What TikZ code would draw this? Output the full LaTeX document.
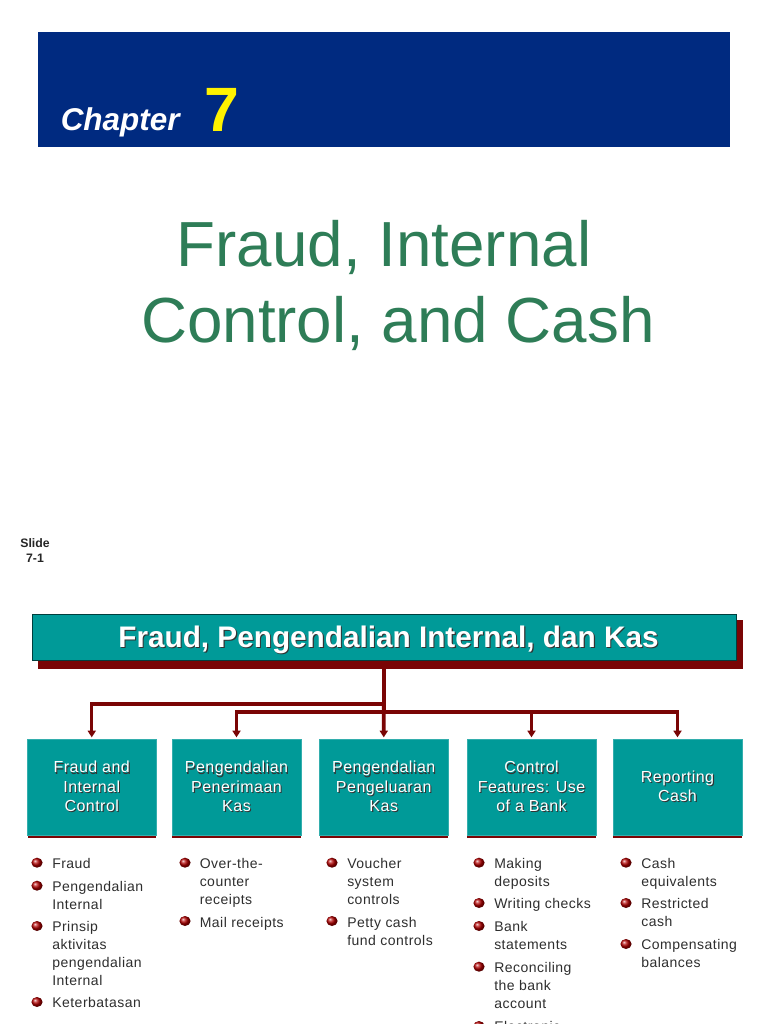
\documentclass[tikz,border=0pt]{standalone}
\usepackage{fontspec}
\setmainfont{Liberation Sans}
\newfontfamily\boxfont[LetterSpace=3]{Liberation Sans}
\newfontfamily\listfont[LetterSpace=3.5]{Liberation Sans}
\usetikzlibrary{arrows.meta}
\definecolor{bandblue}{HTML}{002A80}
\definecolor{titlegreen}{HTML}{2E7D57}
\definecolor{tealbox}{HTML}{009A98}
\definecolor{maroon}{HTML}{7A0505}
\definecolor{listgrey}{HTML}{2E2E2E}
\newcommand{\shadowed}[1]{\leavevmode\rlap{\raisebox{-0.8pt}{\kern0.8pt\textcolor{black!80}{#1}}}#1}
\newcommand{\bulletitem}[6]{%
  \shade[ball color=red!70!black] (#3,#5) ellipse (5.6 and 5);
  \node[listitem] (#1) at (#4,#6) {\parbox[t]{110pt}{\raggedright\fontsize{10.5}{13.5}\selectfont #2}};}
\tikzset{
  x=0.75pt,y=-0.75pt,
  listitem/.style={anchor=base west,inner sep=0pt,text=listgrey,font=\listfont},
  topicbox/.style={fill=tealbox,draw=tealbox!80!white,line width=0.5pt,minimum height=72pt,inner sep=0pt,align=center,text=white,font=\boxfont\fontsize{12}{14.4}\selectfont},
  conn/.style={draw=maroon,line width=2.3pt},
  connarrow/.style={conn,shorten >=1pt,-{Triangle[length=5pt,width=6pt]}},
  titletext/.style={anchor=base,inner sep=0pt,text=titlegreen,font=\fontsize{47.8}{57}\selectfont},
}
\begin{document}
\begin{tikzpicture}
\useasboundingbox (0,0) rectangle (768,1024);
\fill[white] (0,0) rectangle (768,1024);
% chapter band
\fill[bandblue] (38,32) rectangle (729.5,147);
\node[anchor=base west,inner sep=0pt,text=white,font=\fontsize{23.6}{28}\selectfont\bfseries\itshape] (chapter) at (60.5,130) {Chapter};
\node[anchor=base west,inner sep=0pt,text=yellow,font=\fontsize{47}{56}\selectfont\bfseries] (seven) at (204,132) {7};
% title
\node[titletext] (title1) at (384,266) {Fraud, Internal};
\node[titletext] (title2) at (398,342) {Control, and Cash};
% slide label
\node[anchor=center,inner sep=0pt,align=center,text=black!85,font=\fontsize{9.2}{11}\selectfont\bfseries] (slide) at (35,550.5) {Slide\\7-1};
% header
\fill[maroon] (38,620) rectangle (743,669);
\node[fill=tealbox,draw=black!60!tealbox,line width=0.75pt,minimum width=528pt,minimum height=35pt,inner sep=0pt,text=white,font=\fontsize{22.3}{26}\selectfont\bfseries] (head) at (384,637.5) {\kern6.75pt\rule{0pt}{21pt}\shadowed{Fraud, Pengendalian Internal, dan Kas}};
% topic boxes
\foreach \xl/\xr in {27.5/156,172/301,319.5/448,467/596,613/742}{\fill[maroon] (\xl,830) rectangle (\xr,837.5);}
\node[topicbox,minimum width=96.4pt] (b1) at (91.75,787) {\shadowed{Fraud and}\\\shadowed{Internal}\\\shadowed{Control}};
\node[topicbox,minimum width=96.8pt] (b2) at (236.5,787) {\shadowed{Pengendalian}\\\shadowed{Penerimaan}\\\shadowed{Kas}};
\node[topicbox,minimum width=96.4pt] (b3) at (383.75,787) {\shadowed{Pengendalian}\\\shadowed{Pengeluaran}\\\shadowed{Kas}};
\node[topicbox,minimum width=96.8pt] (b4) at (531.5,787) {\shadowed{Control}\\\shadowed{Features: Use}\\\shadowed{of a Bank}};
\node[topicbox,minimum width=96.8pt] (b5) at (677.5,787) {\shadowed{Reporting}\\\shadowed{Cash}};
% connectors
\coordinate (busA) at (384,704);
\coordinate (busB) at (384,712);
\draw[connarrow] (head.south) -- (busA) -| (b1.north);
\draw[connarrow] (head.south) -- (busB) -| (b2.north);
\draw[connarrow] (head.south) -- (busB) -| (b4.north);
\draw[connarrow] (head.south) -- (busB) -| (b5.north);
\draw[connarrow,line width=2.8pt] (head.south) -- (b3.north);
% lists
\bulletitem{a1}{Fraud}{37}{52}{862.7}{868}
\bulletitem{a2}{Pengendalian\\Internal}{37}{52}{885.7}{891}
\bulletitem{a3}{Prinsip\\aktivitas\\pengendalian\\Internal}{37}{52}{926}{931.7}
\bulletitem{a4}{Keterbatasan}{37}{52}{1002}{1007.7}
\bulletitem{c1}{Over-the-\\counter\\receipts}{185}{199.5}{862.7}{868}
\bulletitem{c2}{Mail receipts}{185}{199.5}{921}{927}
\bulletitem{d1}{Voucher\\system\\controls}{332}{347}{862.7}{868}
\bulletitem{d2}{Petty cash\\fund controls}{332}{347}{921}{927}
\bulletitem{e1}{Making\\deposits}{479}{494}{862.7}{868}
\bulletitem{e2}{Writing checks}{479}{494}{903}{908.7}
\bulletitem{e3}{Bank\\statements}{479}{494}{926}{931.7}
\bulletitem{e4}{Reconciling\\the bank\\account}{479}{494}{966.7}{972}
\bulletitem{e5}{Electronic}{479}{494}{1026}{1031}
\bulletitem{f1}{Cash\\equivalents}{626}{641}{862.7}{868}
\bulletitem{f2}{Restricted\\cash}{626}{641}{903}{908.7}
\bulletitem{f3}{Compensating\\balances}{626}{641}{944}{949.5}
\end{tikzpicture}
\end{document}
